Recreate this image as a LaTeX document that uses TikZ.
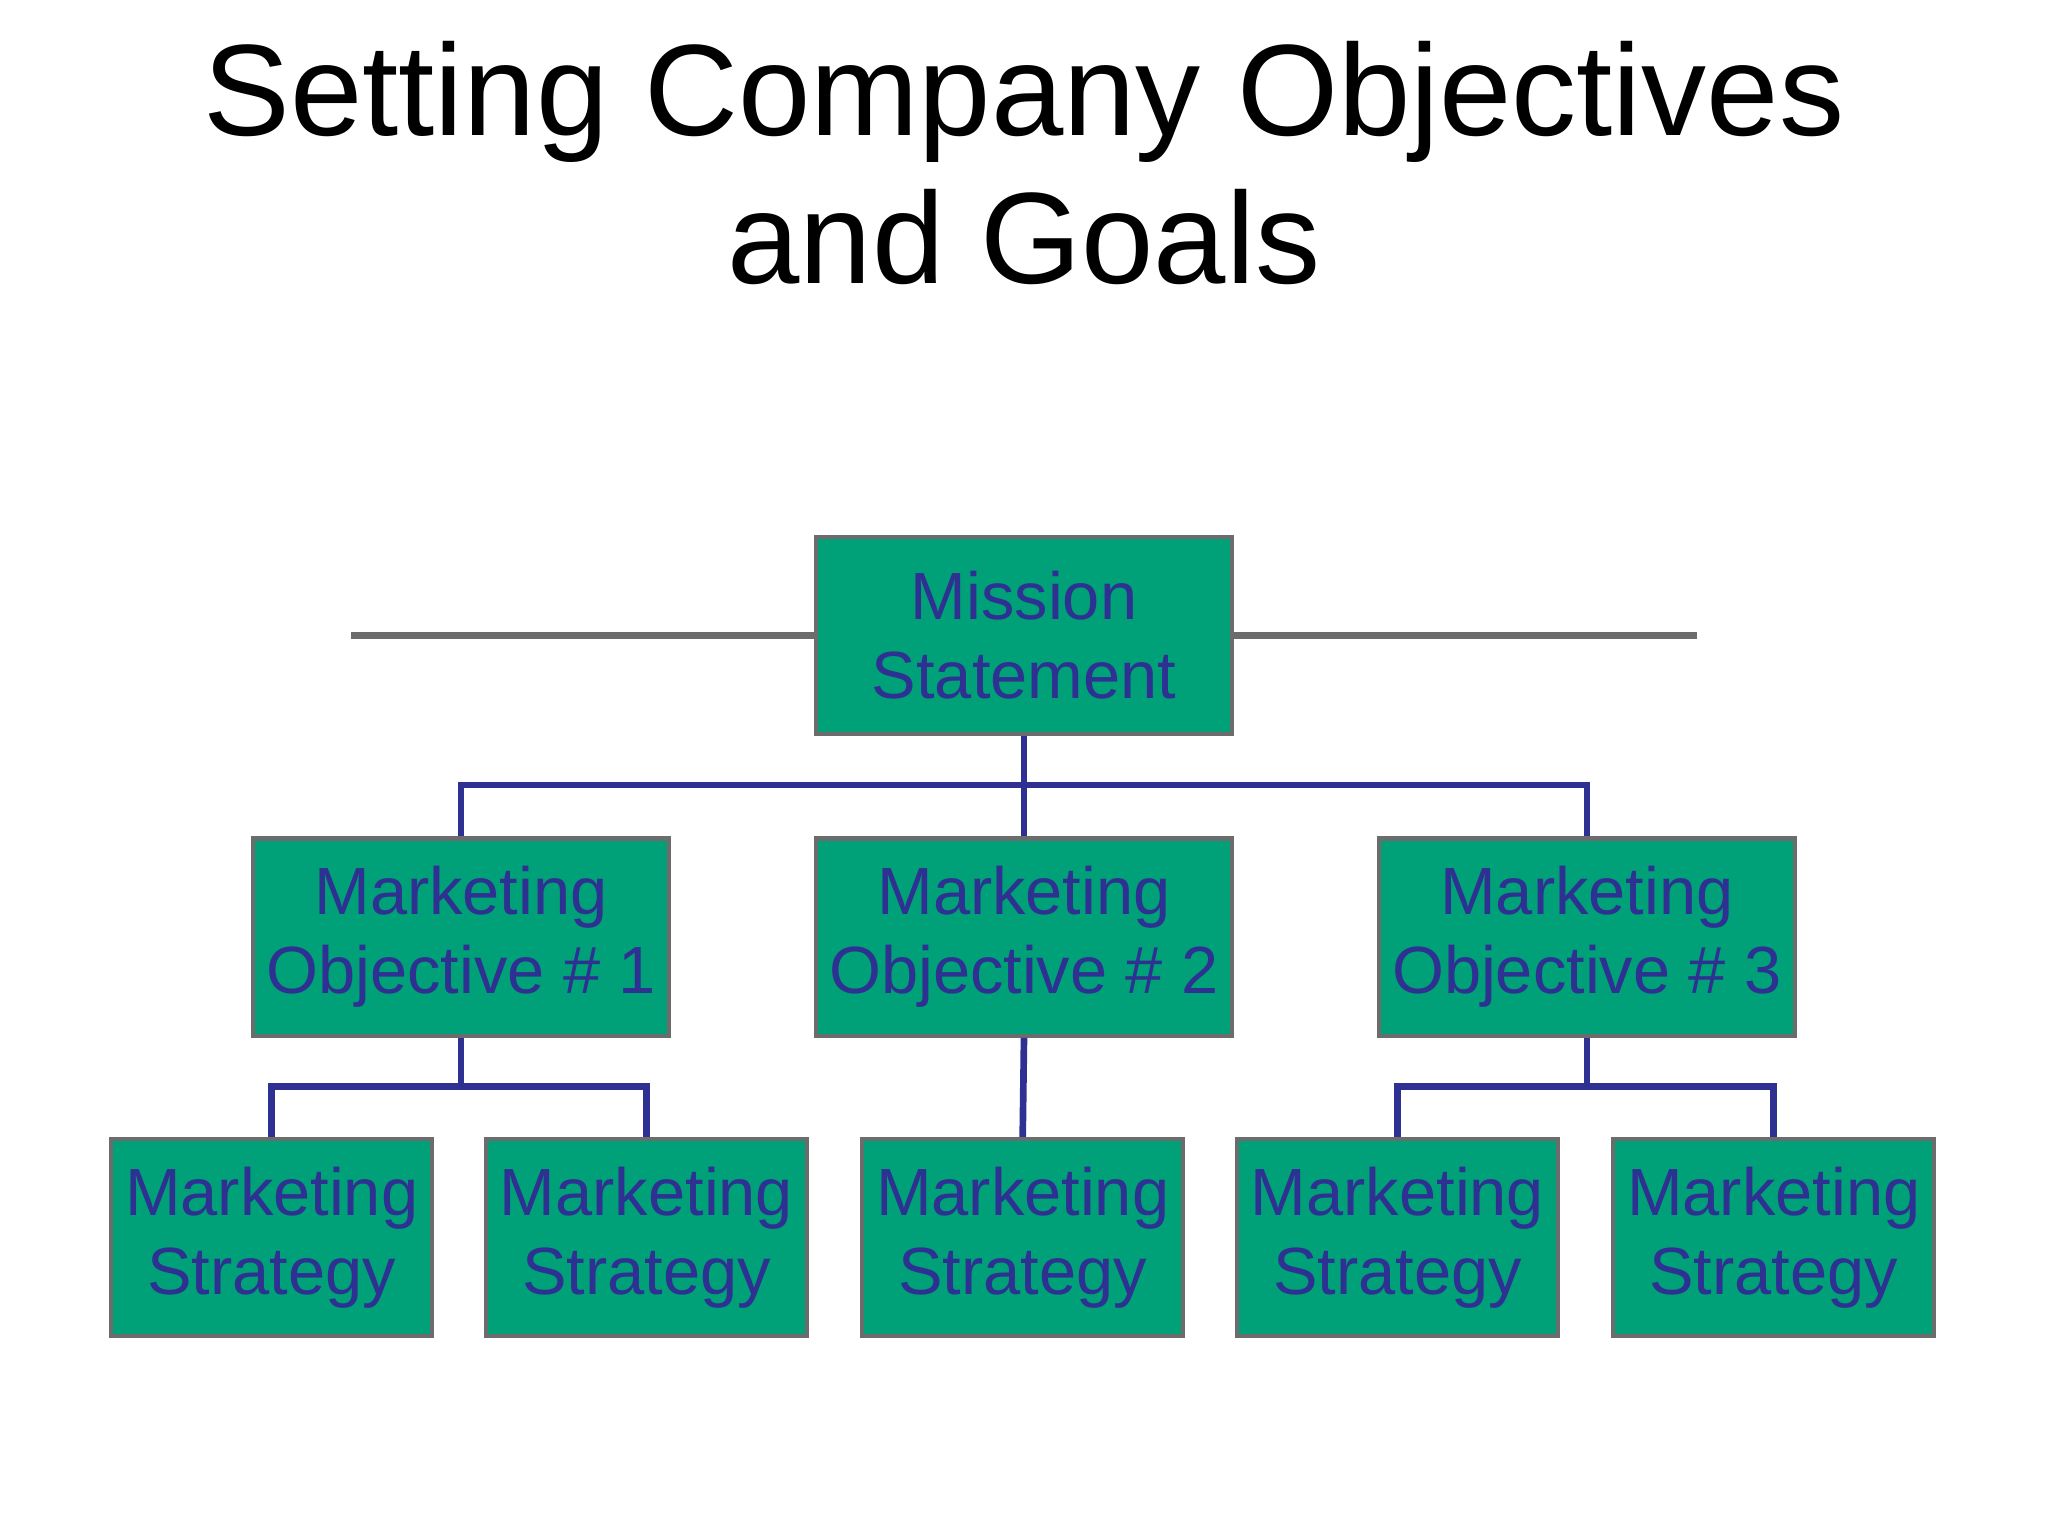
\documentclass[tikz,border=0pt]{standalone}
\usepackage{fontspec}
\setmainfont{Liberation Sans}
\begin{document}
\begin{tikzpicture}[x=0.01306cm,y=-0.01306cm,
  box/.style={draw=gray!85!black,line width=1.2pt,fill={rgb,255:red,0;green,160;blue,120},inner sep=0pt,
    text={rgb,255:red,46;green,49;blue,146},font=\fontsize{19}{22.5}\selectfont,align=center},
  link/.style={draw={rgb,255:red,46;green,49;blue,146},line width=1.9pt}]
\useasboundingbox (0,0) rectangle (1568,1176);
\node[font=\fontsize{37}{42}\selectfont,align=center] (title) at (784,125) {Setting Company Objectives\\and Goals};
\node[box,minimum width=318\pgflinewidth,text width=300] (m) at (784,486.5) {};
% boxes as explicit rectangles with nodes
\def\bx#1#2#3#4#5#6{\node[box,minimum width=#4*0.01306cm,minimum height=#5*0.01306cm] (#1) at (#2,#3) {#6};}
\bx{m}{784}{486.5}{318}{151}{Mission\\Statement}
\bx{o1}{353}{717.5}{318}{151}{Marketing\\Objective \# 1}
\bx{o2}{784}{717.5}{318}{151}{Marketing\\Objective \# 2}
\bx{o3}{1215}{717.5}{318}{151}{Marketing\\Objective \# 3}
\bx{s1}{208}{947.5}{246}{151}{Marketing\\Strategy}
\bx{s2}{495}{947.5}{246}{151}{Marketing\\Strategy}
\bx{s3}{783}{947.5}{246}{151}{Marketing\\Strategy}
\bx{s4}{1070}{947.5}{246}{151}{Marketing\\Strategy}
\bx{s5}{1358}{947.5}{246}{151}{Marketing\\Strategy}
\coordinate (b1) at (784,601);
\coordinate (b2) at (353,832);
\coordinate (b3) at (1215,832);
\draw[link] (m.south) -- (b1);
\draw[link] (o1.north) |- (b1) -| (o3.north);
\draw[link] (b1) -- (o2.north);
\draw[link] (o1.south) -- (b2);
\draw[link] (s1.north) |- (b2) -| (s2.north);
\draw[link] (o2.south) -- (s3.north);
\draw[link] (o3.south) -- (b3);
\draw[link] (s4.north) |- (b3) -| (s5.north);
\end{tikzpicture}
\end{document}
